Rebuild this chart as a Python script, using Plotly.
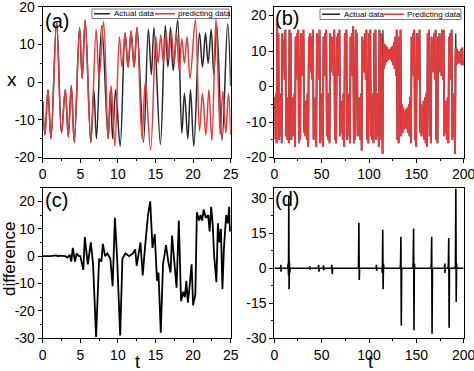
import numpy as np
import plotly.graph_objects as go

RED = "#e63a3c"
BLACK = "#2a2a2a"
FONT = "Liberation Sans, Arial, sans-serif"

# ---------------- panel (a): x(t), actual vs predicted (extrema)
A_T_ACTUAL = [0, 0.3, 0.7, 1.1, 1.85, 2.5, 3.0, 3.4, 3.8, 4.2, 4.9, 5.25, 5.65,
              6.4, 6.8, 7.15, 7.85, 8.7, 9.0, 9.3, 9.7, 10.3, 10.95, 11.35, 11.75, 12.15, 12.55,
              13.4, 14.05, 14.45, 14.8, 15.65, 16.3, 16.65, 17.0, 17.35, 17.95, 18.5, 18.85, 19.3, 19.65, 20.1,
              20.85, 21.25, 21.65, 22.0, 22.4, 22.75, 23.15, 23.85, 24.6, 25.0]
A_X_ACTUAL = [-5, -14, -2, -15, 16, -13.5, -2, -14.5, -1, -16, 14.5, 1, 16.5,
              -16, -2, -15, 15, -15, -2, -15, -2, -17, 13, 4, 13.5, 4, 14.5,
              -16, 14, 2, 14.5, -16.5, 15, 4, 14.5, 3, 16.5, -13.5, -3, -15, -2, -17,
              13, 4, 13, 5, 14, 2, 15, -15.5, 15.5, -1]
A_T_PRED = [0, 0.3, 0.7, 1.1, 1.85, 2.5, 3.0, 3.4, 3.8, 4.2, 4.9, 5.25, 5.65,
            6.4, 7.1, 7.5, 8.1, 8.7, 9.1, 9.6, 10.2, 10.55, 10.95, 11.35, 11.75, 12.15, 12.55,
            13.2, 13.65, 14.35, 15.05, 15.35, 15.7, 16.05, 16.4, 16.75, 17.1, 17.45, 17.8, 18.15, 18.5, 18.85, 19.2, 19.6,
            20.3, 20.85, 21.25, 21.7, 22.1, 22.5, 23.05, 23.6, 23.95, 24.35, 24.7, 25.0]
A_X_PRED = [-5, -14, -2, -15, 16, -13.5, -2, -14.5, -1, -16, 14.5, 1, 16.5,
            -16, 14, 1, 16, -15, -1, -17, 12, 4, 13, 4, 13.5, 4, 14.5,
            -15, 0, -18, 12, 5, 12.5, 5, 13, 6, 13.5, 5, 13, 3, 11.5, 5, 12, 1,
            16.5, -13, -3, -14, -2, -15.5, 17, -14, -2.5, -13.5, -3, -14]

# ---------------- panel (b): long run, segments of oscillation extrema
B_SEG_START = [0, 3, 5, 8.5, 12.5, 16, 18, 22.5, 26, 28, 31.5, 36.5, 41.5, 45, 48.5, 52, 55.5, 59,
               64, 66, 69.5, 74.5, 77, 80.5, 84, 86, 88, 93, 98, 100, 102, 105.5, 107.5, 111, 113,
               115, 130, 132, 134, 145, 148.5, 150.5, 154, 162, 164, 166, 171, 173, 179.5, 184.5,
               188, 191.5]
B_SEG_END = 200
B_SEG_X = [
    [-8, -3, -15, -2, -16], [18, 3, 15], [-15, -4, -14, -2, -16], [15, 5, 13, 2, 16],
    [-14, -5, -15, -3, -16], [16, 4, 15], [-15, -3, -14, -5, -13, -2, -17], [14, 4, 15, 2, 16],
    [-16, -2, -15], [15, 6, 14, 3, 16], [-13, -6, -14, -4, -15, -2, -17], [14, 5, 15, 4, 14, 2, 16],
    [-15, -5, -14, -3, -17], [15, 3, 14, 2, 16], [-16, -4, -15, -2, -17], [14, 5, 15, 3, 16],
    [-14, -4, -15, -2, -16], [15, 4, 14, 6, 13, 3, 16], [-15, -3, -16], [14, 5, 15, 3, 16],
    [-14, -6, -13, -4, -15, -2, -17], [15, 4, 16], [-15, -4, -14, -2, -16], [14, 5, 15, 3, 17],
    [-16, -3, -15], [16, 2, 15], [-14, -5, -13, -3, -15, -2, -18], [14, 6, 13, 4, 15, 2, 16],
    [-15, -4, -16], [15, 3, 16], [-14, -4, -15, -2, -16], [15, 3, 16],
    [-15, -3, -14, -2, -17], [16, 3, 15], [-15, -2, -19],
    [13, 5, 12, 6, 11.5, 7, 11, 7.5, 10.5, 8, 10.5, 7.5, 11, 7, 11.5, 6, 12.5, 5, 14, 3, 16],
    [-15, -3, -16], [14, 3, 16],
    [-14, -5, -13, -6, -12, -7, -11.5, -6.5, -12, -6, -13, -5, -14, -3, -16],
    [14, 5, 15, 3, 16], [-15, -3, -17], [15, 4, 14, 2, 16],
    [-13, -5, -14, -6, -13, -4, -15, -3, -16, -2, -17], [15, 4, 16], [-14, -3, -16],
    [14, 5, 13, 4, 15, 2, 16], [-15, -4, -16], [14, 5, 15, 4, 14, 3, 16, 2, 16],
    [-14, -5, -13, -4, -15, -3, -16], [14, 4, 15, 2, 16], [-15, -4, -14, -2, -19],
    [11, 6, 10.5, 6.5, 10, 7, 10, 6.5, 10.5, 6, 11, 6],
]
# places where the actual (black) run is visible above the prediction
B_ACTUAL_SPIKE_T = [114.2, 114.7, 115.2, None, 191.0, 191.6, 192.2]
B_ACTUAL_SPIKE_X = [9, 16, 9, None, 4, 15, 6]

# ---------------- panel (c): difference, short run
C_T = [0, 1, 1.8, 2.0, 2.2, 3.0, 3.3, 3.6, 3.8, 4.0, 4.3, 4.5, 4.8, 5.0, 5.4, 5.6, 6.0, 6.4, 6.7, 7.1,
       7.5, 7.8, 8.0, 8.3, 8.6, 9.0, 9.3, 9.6, 9.9, 10.3, 10.6, 11.0, 11.5, 12.0, 12.3, 12.5, 13.0, 13.3,
       13.6, 14.0, 14.3, 14.6, 14.9, 15.2, 15.4, 15.7, 16.0, 16.4, 16.7, 17.0, 17.2, 17.5, 17.8, 18.1,
       18.4, 18.7, 18.9, 19.1, 19.3, 19.5, 19.8, 20.0, 20.3, 20.5, 20.8, 21.0, 21.2, 21.4, 21.7, 22.0,
       22.2, 22.4, 22.6, 22.8, 23.1, 23.3, 23.5, 23.7, 23.9, 24.1, 24.4, 24.6, 24.8, 24.9, 25.0]
C_X = [0, 0, 0.3, 0, 0.2, 0, -0.5, 0.5, -2, 3, -2, 1, 0, 0, -5, 7, -3, 5, -3, -29.5,
       -1, -2, 4.5, 0, 1, -1, -11, 14, -1, -29, -1, 1, 0, 1, 2.5, -3.5, 5, -7,
       3, 15, 20, 3, 8, -9, -6, -28, -3, 4, -2, -6, 7.5, -2, -11.5, 13,
       -16.5, -13, -15, -9, -17, -12, -3, -18, -14, 16, 13, 15, 13, 17, 14, 15,
       9, 18, 12, 0, -9.5, 12, 5, 10, -12, 3, 15, 12, 18, 9, 11]

# ---------------- panel (d): difference, long run
D_T = [0,
       6.6, 6.9, 7.2, 7.5,
       14.2, 14.6, 15.0, 15.3, 15.6, 15.9, 16.3, 16.8,
       37.2, 37.5, 37.8, 38.1,
       46.5, 46.8, 47.1, 47.4,
       51.7, 52.0, 52.3, 52.6,
       60.4, 60.8, 61.2, 61.6,
       88.9, 89.3, 89.7, 90.1,
       107.5, 107.8, 108.1, 108.4,
       113.7, 114.1, 114.5, 114.9, 115.3, 115.7,
       132.9, 133.3, 133.7, 134.1, 134.5,
       146.3, 146.7, 147.1, 147.5, 147.9, 148.3,
       165.4, 165.8, 166.2, 166.6, 167.0,
       179.7, 180.0, 180.3, 180.6,
       183.4, 183.8, 184.2, 184.6, 185.0,
       190.9, 191.3, 191.7, 192.1, 192.5, 192.9,
       200]
D_X = [0,
       0, 1.5, -1.5, 0,
       0, 2, -3, 31, -9, 3, -2, 0,
       0, 0.8, -0.6, 0,
       0, 1.5, -1.5, 0,
       0, 1.2, -0.8, 0,
       0, 1.5, -2.5, 0,
       0, 19.5, -5, 0,
       0, 1.5, -1, 0,
       0, -2, 16.5, -9, 2, 0,
       0, 2, 13.5, -24.5, 0,
       0, 3, 17, -26.5, 2, 0,
       0, 2, 13.5, -28, 0,
       0, 2, -2, 0,
       0, 1.5, 13, -25.5, 0,
       0, 2, 34, -14.5, 2, 0,
       0]

# ---------------- ticks
A_YTICKS = [-20, -10, 0, 10, 20]
C_YTICKS = [-30, -20, -10, 0, 10, 20]
D_YTICKS = [-30, -15, 0, 15, 30]
SHORT_XTICKS = [0, 5, 10, 15, 20, 25]
LONG_XTICKS = [0, 50, 100, 150, 200]

# build panel (b) series from its segments
b_t, b_x = [], []
ends = B_SEG_START[1:] + [B_SEG_END]
for t0, t1, vals in zip(B_SEG_START, ends, B_SEG_X):
    b_t.extend(np.linspace(t0, t1, len(vals), endpoint=False).tolist())
    b_x.extend(vals)

W, H = 474, 371
def px_x(p): return p / W
def px_y(p): return 1 - p / H

XA = [px_x(42.7), px_x(230.7)]
XB = [px_x(274.3), px_x(463.7)]
YT = [px_y(157.5), px_y(6.7)]
YB = [px_y(338.3), px_y(187.7)]

fig = go.Figure()
# (a)
fig.add_trace(go.Scatter(x=A_T_ACTUAL, y=A_X_ACTUAL, mode="lines", name="Actual data",
                         line=dict(color=BLACK, width=1.5, shape="spline", smoothing=1.0),
                         xaxis="x", yaxis="y", showlegend=False))
fig.add_trace(go.Scatter(x=A_T_PRED, y=A_X_PRED, mode="lines", name="predicting data",
                         line=dict(color=RED, width=1.5, shape="spline", smoothing=1.0),
                         xaxis="x", yaxis="y", showlegend=False))
# (b)
fig.add_trace(go.Scatter(x=b_t, y=b_x, mode="lines", name="Actual data",
                         line=dict(color=BLACK, width=1.8), xaxis="x2", yaxis="y2", showlegend=False))
fig.add_trace(go.Scatter(x=B_ACTUAL_SPIKE_T, y=B_ACTUAL_SPIKE_X, mode="lines", name="Actual data",
                         line=dict(color=BLACK, width=1.2), xaxis="x2", yaxis="y2", showlegend=False,
                         connectgaps=False))
fig.add_trace(go.Scatter(x=b_t, y=b_x, mode="lines", name="Predicting data",
                         line=dict(color=RED, width=1.8), xaxis="x2", yaxis="y2", showlegend=False))
# (c)
fig.add_trace(go.Scatter(x=C_T, y=C_X, mode="lines", name="difference",
                         line=dict(color="black", width=1.8), xaxis="x3", yaxis="y3", showlegend=False))
# (d)
fig.add_trace(go.Scatter(x=D_T, y=D_X, mode="lines", name="difference",
                         line=dict(color="black", width=1.6), xaxis="x4", yaxis="y4", showlegend=False))

def axis(domain, anchor, rng, ticks, minor_dtick):
    return dict(domain=domain, anchor=anchor, range=rng, automargin=False,
                showline=True, linecolor="black", linewidth=1,
                mirror=True, ticks="outside", ticklen=4, tickwidth=1, tickcolor="black",
                showgrid=False, zeroline=False, tickmode="array", tickvals=ticks,
                ticktext=[str(v) for v in ticks], ticklabeloverflow="allow",
                tickfont=dict(family=FONT, size=14, color="black"),
                minor=dict(ticks="outside", ticklen=2, tickcolor="black", dtick=minor_dtick, showgrid=False))

fig.update_layout(
    width=W, height=H, autosize=False, showlegend=False,
    margin=dict(l=0, r=0, t=0, b=0, pad=0),
    paper_bgcolor="white", plot_bgcolor="white",
    xaxis=axis(XA, "y", [0, 25], SHORT_XTICKS, 2.5),
    yaxis=axis(YT, "x", [-20, 20], A_YTICKS, 5),
    xaxis2=axis(XB, "y2", [0, 200], LONG_XTICKS, 25),
    yaxis2=axis(YT, "x2", [-20, 22.5], A_YTICKS, 5),
    xaxis3=axis(XA, "y3", [0, 25], SHORT_XTICKS, 2.5),
    yaxis3=axis(YB, "x3", [-30, 25], C_YTICKS, 5),
    xaxis4=axis(XB, "y4", [0, 200], LONG_XTICKS, 25),
    yaxis4=axis(YB, "x4", [-30, 34.5], D_YTICKS, 7.5),
)

def text(label, x, y, size, angle=0, anchor="center"):
    fig.add_annotation(text=label, x=px_x(x), y=px_y(y), xref="paper", yref="paper",
                       xanchor=anchor, yanchor="middle", showarrow=False, textangle=angle,
                       font=dict(family=FONT, size=size, color="black"))

# axis titles
text("x", 12, 79, 19)
text("difference", 9, 259, 17, angle=-90)
text("t", 137, 362, 18)
text("t", 370, 362, 18)

# panel letters
for label, x, y in [("(a)", 43, 21), ("(b)", 273, 18), ("(c)", 43, 200), ("(d)", 273, 199)]:
    text(label, x, y, 20, anchor="left")

# legends (drawn as boxes inside the top panels)
def legend_box(x0, x1, y0, y1, items):
    fig.add_shape(type="rect", xref="paper", yref="paper", x0=px_x(x0), x1=px_x(x1),
                  y0=px_y(y1), y1=px_y(y0), line=dict(color="#7a7a7a", width=1), fillcolor="white")
    ym = (y0 + y1) / 2
    for color, lx0, lx1, label, tx in items:
        fig.add_shape(type="line", xref="paper", yref="paper", x0=px_x(lx0), x1=px_x(lx1),
                      y0=px_y(ym), y1=px_y(ym), line=dict(color=color, width=1.6))
        text(label, tx, ym, 8, anchor="left")

legend_box(92, 229, 9, 18.5, [(BLACK, 94, 110, "Actual data", 112), (RED, 155, 175, "predicting data", 176)])
legend_box(320, 461, 9, 19.5, [(BLACK, 322, 340, "Actual data", 342), (RED, 384, 404, "Predicting data", 405)])

fig.write_html("out.html", config={"displayModeBar": False},
               post_script="document.body.style.margin='0px';document.body.style.overflow='hidden';")
